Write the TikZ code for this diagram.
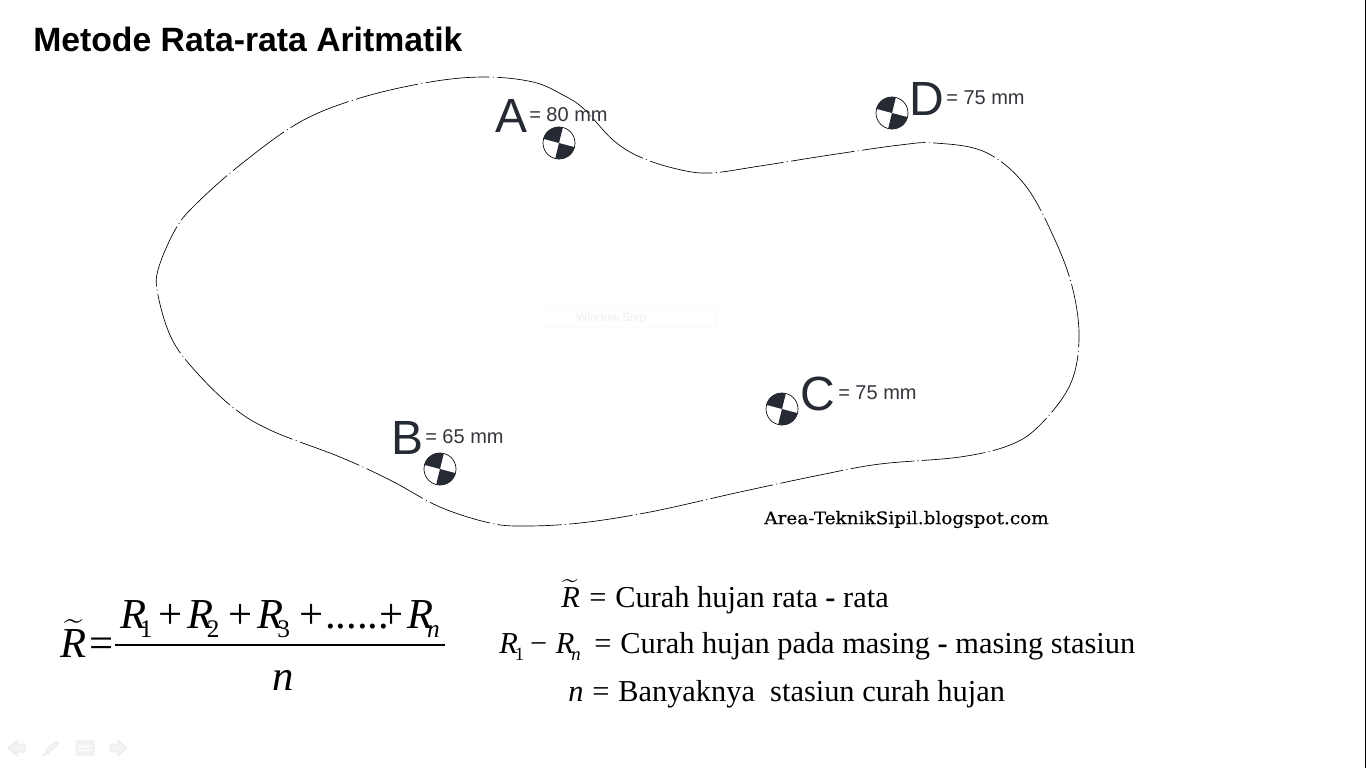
\documentclass[tikz,border=0pt]{standalone}
\usepackage{amsmath}
\usepackage{fontspec}
\setmainfont{Liberation Serif}
\setsansfont{Liberation Sans}
\newfontfamily\slabfont[FakeStretch=1.063,FakeBold=0.4]{DejaVu Serif}
\usepackage{tikz}
\usetikzlibrary{positioning, calc}
\definecolor{ink}{HTML}{252A33}
\definecolor{labelgray}{HTML}{33363C}
\definecolor{ghost}{HTML}{F1EEF1}
\definecolor{ghostline}{HTML}{F8F8FB}
\definecolor{navgray}{HTML}{F3F3F3}
\definecolor{navline}{HTML}{E9E9E9}
\newcommand{\Rtilde}{$\widetilde{\mbox{\itshape R}}$}
\newcommand{\Rs}[3][-.15em]{\textit{R}\kern#1\raisebox{-.23em}{\fontsize{#3}{#3}\selectfont #2}}
\tikzset{
  titlenode/.style={font=\sffamily\bfseries\fontsize{25.3}{28}\selectfont, text=black, inner sep=0pt, anchor=west},
  stationletter/.style={font=\sffamily\fontsize{36}{40}\selectfont, text=ink, inner sep=0pt},
  stationvalue/.style={font=\sffamily\fontsize{15}{16}\selectfont, text=labelgray, inner sep=0pt, anchor=west},
  basinline/.style={line width=0.5pt, color=black, dash pattern=on 48pt off 2.5pt on 0.8pt off 2.5pt},
  gaugenode/.style={circle, draw=black, line width=0.5pt, fill=white, minimum size=24pt, inner sep=0pt},
  website/.style={font=\slabfont\fontsize{13}{15}\selectfont, text=black, inner sep=0pt, anchor=west},
  legendtext/.style={font=\rmfamily\fontsize{22.8}{24}\selectfont, text=black, inner sep=0pt, anchor=base west},
  formulatext/.style={font=\rmfamily\fontsize{32}{36}\selectfont, text=black, inner sep=0pt, anchor=base west},
  navicon/.style={fill=navgray, draw=navline, line width=0.5pt},
}
\begin{document}
\begin{tikzpicture}[x=0.75pt, y=-0.75pt]
  \useasboundingbox (0,0) rectangle (1366,768);
  \fill[white] (0,0) rectangle (1366,768);
  \fill[black] (1365,0) rectangle (1366,768);
  \node[titlenode] (title) at (33,39) {Metode Rata-rata Aritmatik};
  % daerah aliran
  \draw[basinline] plot[smooth cycle, tension=0.6] coordinates {
    (485,77) (533,82) (563,95) (584,109) (613,140) (640,157) (677,169) (710,173)
    (760,166) (830,155) (900,145) (935,143) (985,152) (1025,185) (1055,240) (1073,290)
    (1079,340) (1070,385) (1040,425) (1010,445) (960,457) (880,464) (820,475) (740,492)
    (650,512) (580,523) (525,526) (490,523) (440,507) (390,480) (340,457) (270,430)
    (230,405) (190,365) (170,335) (158,295) (158,270) (175,230) (195,205) (240,165)
    (300,122) (360,98) (430,82)};
  % stasiun hujan
  \foreach \nm/\gx/\gy/\lx/\ly/\vx/\vy/\val in {
    A/559/143/512/116/529/115/80,
    B/440/469/408/438/425/437/65,
    C/782/409/818/394/838/393/75,
    D/892/113/927/99/946/98/75}{
    \node[gaugenode] (g\nm) at (\gx,\gy) {};
    \fill[ink] (g\nm.center) -- (g\nm.165) arc[start angle=165, end angle=75, radius=12pt] -- cycle;
    \fill[ink] (g\nm.center) -- (g\nm.345) arc[start angle=345, end angle=255, radius=12pt] -- cycle;
    \node[stationletter] (l\nm) at (\lx,\ly) {\nm};
    \node[stationvalue] (v\nm) at (\vx,\vy) {= \val\ mm};
  }
  \node[website] (site) at (764,519.5) {Area-TeknikSipil.blogspot.com};
  % rumus
  \node[formulatext] (rbar) at (60,657) {\Rtilde};
  \node[formulatext] (eq) at (89,657) {=};
  \node[formulatext] (num) at (120,628) {\Rs{1}{19}\kern.13em+\kern.12em\Rs{2}{19}\kern.21em+\kern.12em\Rs{3}{19}\kern.21em+\kern.05em......\kern-.23em+\kern.09em\Rs{\textit{n}}{19}};
  \coordinate (fracl) at (115,645);
  \coordinate (fracr) at (445,645);
  \draw[line width=1.1pt] (fracl) -- (fracr);
  \node[formulatext, anchor=base] (den) at (283,690) {\textit{n}};
  % keterangan
  \node[legendtext] (s1) at (561,607) {\Rtilde};
  \node[legendtext] (e1) at (589,607) {=};
  \node[legendtext] (t1) at (615,607) {Curah hujan rata {\bfseries -} rata};
  \node[legendtext] (s2) at (499,653) {\Rs[-.1em]{1}{14}\kern.2em−\kern.28em\Rs[-.1em]{\textit{n}}{14}};
  \node[legendtext] (e2) at (594,653) {=};
  \node[legendtext] (t2) at (620,653) {Curah hujan pada masing {\bfseries -} masing stasiun};
  \node[legendtext] (s3) at (568,701) {\textit{n}};
  \node[legendtext] (e3) at (592,701) {=};
  \node[legendtext] (t3) at (618,701) {Banyaknya\kern.25em\ stasiun curah hujan};
  % sisa tampilan layar
  \node[draw=ghostline, line width=0.5pt, rounded corners=1pt, minimum width=129pt, minimum height=15pt, inner sep=0pt] (snip) at (630,317) {};
  \node[font=\sffamily\fontsize{9}{10}\selectfont, text=ghost, inner sep=0pt, anchor=west] (sniptext) at (576,318) {Window Snip};
  \fill[navicon] (8,748) -- (17,740) -- (17,744) -- (25,744) -- (25,752) -- (17,752) -- (17,756) -- cycle;
  \fill[navicon] (43,756) -- (47,749) -- (56,741) -- (59,743) -- (50,752) -- cycle;
  \filldraw[navicon, rounded corners=1pt] (76,741) rectangle (94,755);
  \draw[white, line width=0.6pt] (78,746) -- (92,746) (78,750) -- (92,750);
  \fill[navicon] (127,748) -- (118,740) -- (118,744) -- (110,744) -- (110,752) -- (118,752) -- (118,756) -- cycle;
\end{tikzpicture}
\end{document}
